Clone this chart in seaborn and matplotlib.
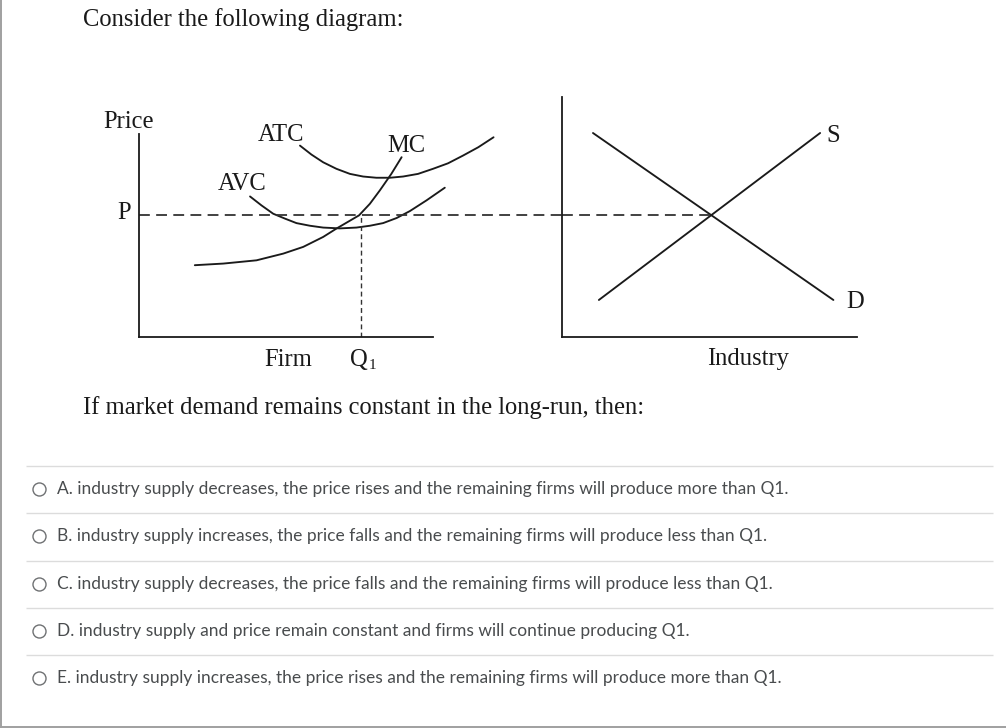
import matplotlib
matplotlib.use("Agg")
import matplotlib.pyplot as plt
import seaborn as sns
import pandas as pd

# Firm cost curves (quantity, price)
atc_q = [5.48, 5.87, 6.27, 6.72, 7.18, 7.63, 8.08, 8.54, 8.99, 9.50, 10.01, 10.52, 11.03, 11.55, 12.07]
atc_p = [9.41, 8.97, 8.59, 8.27, 8.02, 7.89, 7.83, 7.83, 7.89, 8.02, 8.27, 8.54, 8.92, 9.33, 9.82]
avc_q = [3.78, 4.17, 4.57, 4.97, 5.36, 5.82, 6.27, 6.84, 7.40, 7.86, 8.31, 8.77, 9.22, 9.79, 10.41]
avc_p = [6.91, 6.47, 6.06, 5.82, 5.60, 5.47, 5.38, 5.34, 5.38, 5.47, 5.60, 5.85, 6.19, 6.72, 7.34]
mc_q = [1.90, 2.87, 4.00, 4.91, 5.59, 6.27, 6.72, 7.49, 7.86, 8.20, 8.59, 8.94]
mc_p = [3.53, 3.61, 3.77, 4.10, 4.43, 4.92, 5.33, 5.98, 6.55, 7.21, 8.02, 8.84]

# Industry supply and demand
demand_q = [1.05, 9.20]
demand_p = [10.03, 1.82]
supply_q = [1.25, 8.75]
supply_p = [1.82, 10.03]

price_p = 6.0
firm_q1 = 7.56
industry_q = 5.06

question = "Consider the following diagram:"
follow_up = "If market demand remains constant in the long-run, then:"
options = [
    "A. industry supply decreases, the price rises and the remaining firms will produce more than Q1.",
    "B. industry supply increases, the price falls and the remaining firms will produce less than Q1.",
    "C. industry supply decreases, the price falls and the remaining firms will produce less than Q1.",
    "D. industry supply and price remain constant and firms will continue producing Q1.",
    "E. industry supply increases, the price rises and the remaining firms will produce more than Q1.",
]

sns.set_theme(style="white")
plt.rcParams["font.family"] = ["Liberation Serif", "DejaVu Serif"]

W, H = 1006, 728
fig = plt.figure(figsize=(W / 100, H / 100), dpi=100)
fig.patch.set_facecolor("white")


def px_axes(left, top, right, bottom):
    return fig.add_axes([left / W, 1 - bottom / H, (right - left) / W, (bottom - top) / H])


ink = "#1a1a1a"
serif = dict(fontsize=17.7, color=ink, family=["Liberation Serif", "DejaVu Serif"])

# page layer in pixel units
page = fig.add_axes([0, 0, 1, 1])
page.set_xlim(0, W)
page.set_ylim(H, 0)
page.axis("off")
page.patch.set_alpha(0)

# firm panel
firm = px_axes(139, 97, 562, 337)
firm.set_xlim(0, 14.4)
firm.set_ylim(0, 11.8)
for q, p in [(atc_q, atc_p), (avc_q, avc_p), (mc_q, mc_p)]:
    sns.lineplot(x=q, y=p, ax=firm, sort=False, estimator=None, color=ink, lw=1.35)
firm.axhline(price_p, color="#333333", lw=1.3, ls=(0, (6, 3.5)))
firm.vlines(firm_q1, 0, price_p, color="#333333", lw=1.0, ls=(0, (3.5, 2.4)))

# industry panel
ind = px_axes(562, 97, 857, 337)
ind.set_xlim(0, 10)
ind.set_ylim(0, 11.8)
sns.lineplot(x=demand_q, y=demand_p, ax=ind, sort=False, estimator=None, color=ink, lw=1.35)
sns.lineplot(x=supply_q, y=supply_p, ax=ind, sort=False, estimator=None, color=ink, lw=1.35)
ind.hlines(price_p, 0, industry_q, color="#333333", lw=1.3, ls=(0, (6, 3.5)))

for ax in (firm, ind):
    ax.patch.set_alpha(0)
    sns.despine(ax=ax)
    ax.set_xticks([])
    ax.set_yticks([])
    for side in ("left", "bottom"):
        ax.spines[side].set_color(ink)
        ax.spines[side].set_linewidth(1.3)
firm.spines["bottom"].set_bounds(0, 10)
firm.spines["left"].set_bounds(0, 10)

# text labels
page.text(83, 26, question, va="baseline", **serif)
page.text(83, 414, follow_up, va="baseline", **serif)
page.text(103, 128, "Price", va="baseline", **serif)
page.text(258, 141, "ATC", va="baseline", **serif)
page.text(387, 152, "MC", va="baseline", **serif)
page.text(218, 190, "AVC", va="baseline", **serif)
page.text(117, 219, "P", va="baseline", **serif)
page.text(264, 366, "Firm", va="baseline", **serif)
page.text(350, 366, "Q", va="baseline", **serif)
page.text(368.5, 369, "1", va="baseline", fontsize=11, color=ink, family=serif["family"])
page.text(707, 365, "Industry", va="baseline", **serif)
page.text(826, 142, "S", va="baseline", **serif)
page.text(846, 308, "D", va="baseline", **serif)

# answer options
row0, row_h = 466, 47.3
for i, label in enumerate(options):
    top = row0 + i * row_h
    page.hlines(top, 26, 993, color="#dcdcdc", lw=1.0)
    page.scatter([39.3], [top + 23], s=88, facecolor="white", edgecolor="#6f7173", lw=1.0, zorder=3)
    page.text(57, top + 28, label, va="baseline", fontsize=12.5, color="#494c4e", family=["Lato", "DejaVu Sans"])

# page frame (left and bottom edges)
page.vlines(0.6, 0, H, color="#a0a0a0", lw=1.4)
page.hlines(726.8, 0, W, color="#a0a0a0", lw=1.4)

fig.savefig("out.png", dpi=100)
